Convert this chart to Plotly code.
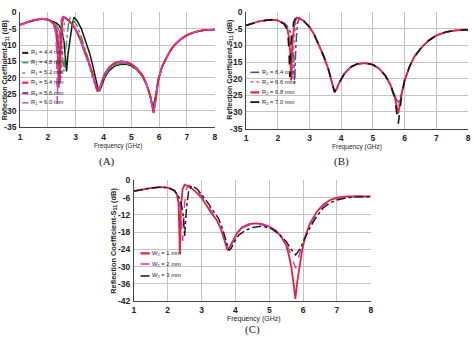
import plotly.graph_objects as go

W, H = 474, 347

# ---------------- Panel A : R1 sweep ----------------
a_f44 = [1.0,1.2,1.4,1.6,1.8,2.0,2.2,2.3,2.4,2.5,2.58,2.64,2.67,2.72,2.8,2.87,2.94,3.05,3.2,3.35,3.5,3.62,3.72,3.8,3.86,3.93,4.05,4.2,4.4,4.6,4.8,5.0,5.2,5.4,5.55,5.68,5.78,5.87,5.97,6.1,6.25,6.4,6.55,6.75,7.0,7.3,7.6,8.0]
a_v44 = [-3.8,-3.2,-2.7,-2.3,-2.1,-2.3,-2.9,-3.3,-4.0,-5.5,-9,-14,-18,-13,-8,-4,-1.6,-2.6,-5,-8.5,-12.5,-16.5,-20.5,-23.2,-24.0,-22.5,-19.8,-17.8,-16.4,-15.9,-15.8,-16.3,-17.5,-19.5,-22,-25.3,-29.2,-25.5,-20.5,-16.8,-14,-11.8,-10,-8.4,-7.0,-6.0,-5.5,-5.3]

a_f48 = [1.0,1.2,1.4,1.6,1.8,2.0,2.2,2.3,2.4,2.47,2.53,2.58,2.62,2.68,2.74,2.8,2.9,3.05,3.2,3.35,3.5,3.62,3.72,3.8,3.86,3.93,4.05,4.2,4.4,4.6,4.8,5.0,5.2,5.4,5.55,5.68,5.8,5.88,5.97,6.1,6.25,6.4,6.55,6.75,7.0,7.3,7.6,8.0]
a_v48 = [-3.8,-3.2,-2.7,-2.3,-2.1,-2.3,-3.0,-3.8,-5.5,-8.5,-13,-18,-13,-7.5,-3.5,-1.6,-2.2,-4.2,-7.5,-11.5,-15.5,-19.5,-22.5,-24,-23.6,-22,-19.4,-17.4,-16.1,-15.6,-15.6,-16.2,-17.4,-19.5,-22,-25.5,-29.5,-25.8,-20.5,-16.8,-14,-11.8,-10,-8.4,-7.0,-6.0,-5.5,-5.3]

a_f52 = [1.0,1.2,1.4,1.6,1.8,2.0,2.2,2.3,2.38,2.44,2.49,2.54,2.6,2.65,2.75,2.9,3.05,3.2,3.35,3.5,3.62,3.72,3.8,3.86,3.93,4.05,4.2,4.4,4.6,4.8,5.0,5.2,5.4,5.55,5.68,5.8,5.88,5.97,6.1,6.25,6.4,6.55,6.75,7.0,7.3,7.6,8.0]
a_v52 = [-3.8,-3.2,-2.7,-2.3,-2.1,-2.4,-3.2,-4.5,-7.5,-13,-20,-9,-3,-1.6,-2.2,-3.8,-6.2,-9.5,-13,-16.8,-20.5,-23,-24,-23.4,-21.7,-19.1,-17.1,-15.8,-15.3,-15.4,-16.0,-17.3,-19.4,-22,-25.5,-30,-26,-20.5,-16.7,-14,-11.8,-10,-8.4,-7.0,-6.0,-5.5,-5.3]

a_f54 = [1.0,1.2,1.4,1.6,1.8,2.0,2.1,2.2,2.3,2.37,2.43,2.47,2.52,2.57,2.7,2.85,3.0,3.15,3.3,3.45,3.6,3.7,3.78,3.84,3.92,4.05,4.2,4.4,4.6,4.8,5.0,5.2,5.4,5.55,5.68,5.8,5.88,5.97,6.1,6.25,6.4,6.55,6.75,7.0,7.3,7.6,8.0]
a_v54 = [-3.9,-3.2,-2.7,-2.3,-2.0,-2.3,-2.7,-3.4,-5,-9,-21.5,-10,-3,-1.5,-2.2,-3.5,-5.3,-8,-11.3,-14.8,-18.6,-21.5,-23.8,-23.6,-21.5,-18.7,-16.8,-15.5,-15.0,-15.1,-15.8,-17.1,-19.2,-22,-25.5,-30.5,-26.3,-20.7,-16.6,-13.9,-11.7,-10,-8.4,-7.0,-6.0,-5.5,-5.3]

a_f56 = [1.0,1.2,1.4,1.6,1.8,2.0,2.1,2.2,2.28,2.34,2.39,2.44,2.5,2.55,2.7,2.85,3.0,3.15,3.3,3.45,3.6,3.7,3.78,3.84,3.92,4.05,4.2,4.4,4.6,4.8,5.0,5.2,5.4,5.55,5.68,5.8,5.88,5.97,6.1,6.25,6.4,6.55,6.75,7.0,7.3,7.6,8.0]
a_v56 = [-3.9,-3.2,-2.7,-2.3,-2.0,-2.3,-2.8,-3.6,-5.5,-10,-23,-10,-3,-1.5,-2.2,-3.5,-5.3,-8,-11.3,-14.8,-18.6,-21.5,-23.9,-23.6,-21.5,-18.7,-16.8,-15.5,-15.0,-15.1,-15.8,-17.1,-19.2,-22,-25.5,-30.6,-26.3,-20.7,-16.6,-13.9,-11.7,-10,-8.4,-7.0,-6.0,-5.5,-5.3]

a_f60 = [1.0,1.2,1.4,1.6,1.8,2.0,2.1,2.2,2.27,2.31,2.34,2.38,2.45,2.52,2.7,2.85,3.0,3.15,3.3,3.45,3.6,3.7,3.78,3.84,3.92,4.05,4.2,4.4,4.6,4.8,5.0,5.2,5.4,5.55,5.68,5.8,5.88,5.97,6.1,6.25,6.4,6.55,6.75,7.0,7.3,7.6,8.0]
a_v60 = [-3.9,-3.2,-2.7,-2.3,-2.0,-2.3,-2.8,-3.8,-6,-11,-27.8,-10,-3,-1.5,-2.2,-3.4,-5.2,-7.9,-11.2,-14.7,-18.5,-21.5,-23.9,-23.7,-21.6,-18.8,-16.8,-15.5,-15.0,-15.1,-15.8,-17.0,-19.1,-22,-25.5,-30.8,-26.3,-20.7,-16.6,-13.9,-11.7,-10,-8.4,-7.0,-6.0,-5.5,-5.3]

# ---------------- Panel B : R2 sweep ----------------
b_f64 = [1.0,1.2,1.4,1.6,1.8,2.0,2.2,2.3,2.4,2.46,2.5,2.53,2.57,2.62,2.68,2.8,2.9,3.0,3.15,3.3,3.45,3.6,3.7,3.79,3.86,3.95,4.1,4.3,4.5,4.75,5.0,5.2,5.4,5.55,5.68,5.8,5.9,6.0,6.15,6.3,6.5,6.75,7.0,7.3,7.6,8.0]
b_v64 = [-4.0,-3.3,-2.8,-2.5,-2.3,-2.5,-3.3,-4.2,-6,-9,-13.5,-21.5,-10,-3.5,-1.7,-2.5,-3.5,-4.5,-6.8,-10,-13.3,-17.3,-20.5,-24,-23,-21,-18.5,-16.5,-15.6,-15.3,-15.8,-17,-19.2,-21.8,-24.8,-27.5,-24.5,-20.5,-16.5,-13.5,-11,-8.6,-7.0,-6.0,-5.5,-5.3]

b_f66 = [1.0,1.2,1.4,1.6,1.8,2.0,2.2,2.3,2.38,2.43,2.47,2.51,2.57,2.63,2.8,2.9,3.0,3.15,3.3,3.45,3.6,3.7,3.79,3.86,3.95,4.1,4.3,4.5,4.75,5.0,5.2,5.4,5.55,5.68,5.8,5.9,6.0,6.15,6.3,6.5,6.75,7.0,7.3,7.6,8.0]
b_v66 = [-4.0,-3.3,-2.8,-2.5,-2.3,-2.5,-3.4,-4.6,-7.5,-12,-20,-9,-3.2,-1.7,-2.5,-3.5,-4.5,-6.8,-10,-13.3,-17.3,-20.5,-24,-23,-21,-18.5,-16.5,-15.6,-15.3,-15.8,-17,-19.2,-21.8,-25,-29.5,-24.8,-20.5,-16.5,-13.5,-11,-8.6,-7.0,-6.0,-5.5,-5.3]

b_f68 = [1.0,1.2,1.4,1.6,1.8,2.0,2.2,2.3,2.35,2.39,2.42,2.46,2.53,2.6,2.8,2.9,3.0,3.15,3.3,3.45,3.6,3.7,3.79,3.86,3.95,4.1,4.3,4.5,4.75,5.0,5.2,5.4,5.55,5.68,5.8,5.9,6.0,6.15,6.3,6.5,6.75,7.0,7.3,7.6,8.0]
b_v68 = [-4.0,-3.3,-2.8,-2.5,-2.3,-2.5,-3.5,-5,-7.5,-12,-20.5,-9,-3,-1.7,-2.5,-3.5,-4.5,-6.8,-10,-13.3,-17.3,-20.5,-24,-23,-21,-18.5,-16.5,-15.6,-15.3,-15.8,-17,-19.2,-21.8,-25.2,-30.5,-25,-20.5,-16.5,-13.5,-11,-8.6,-7.0,-6.0,-5.5,-5.3]

b_f70 = [1.0,1.2,1.4,1.6,1.8,2.0,2.2,2.27,2.32,2.35,2.38,2.42,2.5,2.57,2.8,2.9,3.0,3.15,3.3,3.45,3.6,3.7,3.79,3.86,3.95,4.1,4.3,4.5,4.75,5.0,5.2,5.4,5.55,5.68,5.8,5.9,6.0,6.15,6.3,6.5,6.75,7.0,7.3,7.6,8.0]
b_v70 = [-4.0,-3.3,-2.8,-2.5,-2.3,-2.5,-3.6,-4.8,-7,-11,-19.5,-9,-3,-1.7,-2.5,-3.5,-4.5,-6.8,-10,-13.3,-17.3,-20.5,-24,-23,-21,-18.5,-16.5,-15.6,-15.3,-15.8,-17,-19.2,-21.8,-25.5,-33.5,-25.5,-20.5,-16.5,-13.5,-11,-8.6,-7.0,-6.0,-5.5,-5.3]

# ---------------- Panel C : W2 sweep ----------------
c_f1 = [1.0,1.2,1.4,1.6,1.8,2.0,2.1,2.2,2.27,2.32,2.36,2.39,2.44,2.5,2.65,2.8,3.0,3.15,3.3,3.45,3.58,3.68,3.76,3.83,3.92,4.05,4.2,4.4,4.6,4.8,5.0,5.2,5.35,5.5,5.58,5.65,5.72,5.77,5.83,5.9,5.97,6.05,6.2,6.4,6.6,6.8,7.0,7.3,7.6,8.0]
c_v1 = [-3.7,-3.2,-2.8,-2.5,-2.3,-2.5,-2.9,-3.5,-4.8,-8,-25.5,-9,-3,-1.5,-2.3,-3.6,-6,-8.8,-11.5,-13.8,-17.2,-21,-24,-23.2,-21,-18.3,-16.3,-15.2,-14.9,-15.2,-16.0,-17.5,-19.5,-22.5,-26,-30,-36,-41.2,-35,-29,-24.5,-20,-15,-11,-8.3,-6.8,-6.0,-5.5,-5.4,-5.5]

c_f2 = [1.0,1.2,1.4,1.6,1.8,2.0,2.1,2.2,2.3,2.38,2.44,2.49,2.55,2.62,2.8,3.0,3.15,3.3,3.45,3.58,3.68,3.78,3.85,3.94,4.05,4.2,4.4,4.65,4.8,5.0,5.2,5.35,5.5,5.6,5.7,5.78,5.85,5.93,6.02,6.2,6.4,6.6,6.8,7.0,7.3,7.6,8.0]
c_v2 = [-3.7,-3.2,-2.8,-2.5,-2.3,-2.5,-2.9,-3.6,-5.5,-10,-21,-9,-3,-1.6,-2.8,-5.4,-8.2,-11,-13.6,-17,-20.5,-24,-23.3,-21,-18.6,-16.6,-15.5,-15.3,-15.5,-16.2,-17.6,-19.4,-22,-24.5,-27.5,-30.5,-27.5,-24,-20.5,-15.5,-11.5,-8.8,-7.2,-6.3,-5.7,-5.5,-5.5]

c_f3 = [1.0,1.2,1.4,1.6,1.8,2.0,2.1,2.2,2.3,2.4,2.46,2.5,2.55,2.62,2.71,2.85,3.0,3.15,3.3,3.5,3.62,3.72,3.81,3.88,3.96,4.1,4.3,4.5,4.7,4.9,5.1,5.3,5.5,5.65,5.78,5.9,6.0,6.2,6.4,6.6,6.8,7.0,7.3,7.6,8.0]
c_v3 = [-3.7,-3.2,-2.8,-2.5,-2.3,-2.5,-2.9,-3.6,-5,-8,-12.5,-19.5,-10,-3.5,-1.8,-2.8,-4.8,-7.2,-9.8,-13.2,-16.8,-20.5,-24.4,-23.5,-21.5,-19,-17.3,-16.4,-16.0,-16.2,-17,-18.8,-21.2,-24,-25.9,-24,-21.5,-16.5,-12.5,-9.5,-7.8,-6.8,-6.0,-5.7,-5.6]

# tick labels
ab_ticks = [0, -5, -10, -15, -20, -25, -30, -35]
ab_ticktext = ["0", "-5", "-10", "-15", "-20", "-25", "-30", "-35"]
c_ticks = [0, -6, -12, -18, -24, -30, -36, -42]
c_ticktext = ["0", "-6", "-12", "-18", "-24", "-30", "-36", "-42"]
x_ticks = [1, 2, 3, 4, 5, 6, 7, 8]

a_names = ["R<sub>1</sub> = 4.4 mm", "R<sub>1</sub> = 4.8 mm", "R<sub>1</sub> = 5.2 mm",
           "R<sub>1</sub> = 5.4 mm", "R<sub>1</sub> = 5.6 mm", "R<sub>1</sub> = 6.0 mm"]
b_names = ["R<sub>2</sub> = 6.4 mm", "R<sub>2</sub> = 6.6 mm", "R<sub>2</sub> = 6.8 mm", "R<sub>2</sub> = 7.0 mm"]
c_names = ["W<sub>2</sub> = 1 mm", "W<sub>2</sub> = 2 mm", "W<sub>2</sub> = 3 mm"]

SANS = "Liberation Sans, Arial, sans-serif"

def px(x):
    return x / W

def py(y):
    return 1 - y / H

fig = go.Figure()

a_series = [
    (a_f44, a_v44, "#151515", "solid", 1.5),
    (a_f48, a_v48, "#2f9a40", "dashdot", 1.4),
    (a_f52, a_v52, "#7c80d8", "dot", 1.5),
    (a_f56, a_v56, "#8a3fa0", "solid", 1.8),
    (a_f54, a_v54, "#e8263b", "solid", 1.8),
    (a_f60, a_v60, "#d640bc", "dash", 1.5),
]
a_order_names = [a_names[0], a_names[1], a_names[2], a_names[4], a_names[3], a_names[5]]
for (f, v, c, d, w), n in zip(a_series, a_order_names):
    fig.add_trace(go.Scatter(x=f, y=v, mode="lines", name=n, line=dict(color=c, dash=d, width=w),
                             xaxis="x", yaxis="y", showlegend=False))

b_series = [
    (b_f64, b_v64, "#3b4fa8", "dashdot", 1.5),
    (b_f66, b_v66, "#e05aa0", "dot", 1.5),
    (b_f68, b_v68, "#e8263b", "solid", 1.8),
    (b_f70, b_v70, "#151515", "dash", 1.6),
]
for (f, v, c, d, w), n in zip(b_series, b_names):
    fig.add_trace(go.Scatter(x=f, y=v, mode="lines", name=n, line=dict(color=c, dash=d, width=w),
                             xaxis="x2", yaxis="y2", showlegend=False))

c_series = [
    (c_f1, c_v1, "#e4213d", "solid", 1.8),
    (c_f2, c_v2, "#c23bb5", "dash", 1.4),
    (c_f3, c_v3, "#151515", "dashdot", 1.4),
]
for (f, v, c, d, w), n in zip(c_series, c_names):
    fig.add_trace(go.Scatter(x=f, y=v, mode="lines", name=n, line=dict(color=c, dash=d, width=w),
                             xaxis="x3", yaxis="y3", showlegend=False))

tickfont = dict(family=SANS, size=8.5, color="#222222", weight="bold")
grid = "#c4c4c4"

def xax(dom, anchor):
    return dict(domain=dom, anchor=anchor, range=[1, 8], tickvals=x_ticks, showgrid=True,
                gridcolor=grid, gridwidth=1, zeroline=False, showline=True, linecolor="#444444",
                linewidth=1, ticks="", ticklabelstandoff=1, tickfont=tickfont, fixedrange=True)

def yax(dom, anchor, rng, tv, tt):
    return dict(domain=dom, anchor=anchor, range=rng, tickvals=tv, ticktext=tt, showgrid=True,
                gridcolor=grid, gridwidth=1, zeroline=False, showline=True, linecolor="#444444",
                linewidth=1, ticks="", ticklabelstandoff=1, tickfont=tickfont, fixedrange=True)

fig.update_layout(
    width=W, height=H, margin=dict(l=0, r=0, t=0, b=0),
    paper_bgcolor="white", plot_bgcolor="white", showlegend=False,
    xaxis=xax([px(18.3), px(215)], "y"),
    yaxis=yax([py(126), py(7.3)], "x", [-35, 0], ab_ticks, ab_ticktext),
    xaxis2=xax([px(246.7), px(471)], "y2"),
    yaxis2=yax([py(127.3), py(7.3)], "x2", [-35, 0], ab_ticks, ab_ticktext),
    xaxis3=xax([px(133.3), px(372.7)], "y3"),
    yaxis3=yax([py(305), py(180.7)], "x3", [-42, 0], c_ticks, c_ticktext),
)

ann = []
ytitle = "Reflection Coefficient-S<sub>11</sub> (dB)"
titlefont = dict(family=SANS, size=7, color="#222222", weight="bold")
for (x, y) in [(3.2, 67), (230, 67)]:
    ann.append(dict(text=ytitle, x=px(x), y=py(y), xref="paper", yref="paper", showarrow=False,
                    textangle=-90, xanchor="center", yanchor="middle", font=titlefont))
ann.append(dict(text=ytitle, x=px(113), y=py(243), xref="paper", yref="paper", showarrow=False,
                textangle=-90, xanchor="center", yanchor="middle",
                font=dict(titlefont, size=7.4)))
freqfont = dict(family=SANS, size=6.3, color="#222222")
for (x, y, s) in [(117, 145, 6.3), (359, 146, 6.5), (255, 323.5, 7)]:
    ann.append(dict(text="Frequency (GHz)", x=px(x), y=py(y), xref="paper", yref="paper",
                    showarrow=False, xanchor="center", yanchor="middle", font=dict(freqfont, size=s)))
for (x, y, t) in [(106, 161, "(A)"), (343, 161, "(B)"), (253, 334, "(C)")]:
    ann.append(dict(text=t, x=px(x), y=py(y), xref="paper", yref="paper", showarrow=False,
                    xanchor="center", yanchor="middle",
                    font=dict(family="Liberation Serif, Times New Roman, serif", size=11, color="#222222")))

shapes = []
legfont = dict(family=SANS, size=5.8, color="#222222")

def legend(names, styles, x0, x1, ys):
    for n, (c, d, w), y in zip(names, styles, ys):
        shapes.append(dict(type="line", xref="paper", yref="paper", x0=px(x0), x1=px(x1),
                           y0=py(y), y1=py(y), line=dict(color=c, dash=d, width=w)))
        ann.append(dict(text=n, x=px(x1 + 0.5), y=py(y), xref="paper", yref="paper", showarrow=False,
                        xanchor="left", yanchor="middle", font=legfont))

legend(a_names,
       [("#151515", "solid", 2), ("#2f9a40", "dash", 1.5), ("#7c80d8", "dot", 1.5),
        ("#e8263b", "solid", 2.2), ("#8a3fa0", "solid", 2.2), ("#d640bc", "dash", 1.5)],
       20.5, 26.5, [49.3, 59.3, 70, 80, 90.7, 100.7])
legend(b_names,
       [("#3b4fa8", "dash", 1.5), ("#e05aa0", "dot", 1.5), ("#e8263b", "solid", 2.2), ("#151515", "dash", 1.8)],
       251, 260, [69.3, 79.3, 90, 100])
legend(c_names,
       [("#e4213d", "solid", 2.2), ("#c23bb5", "dash", 1.5), ("#151515", "dashdot", 1.5)],
       140, 149.3, [255.7, 266.7, 279])

fig.update_layout(annotations=ann, shapes=shapes)
fig.write_html("out.html")
